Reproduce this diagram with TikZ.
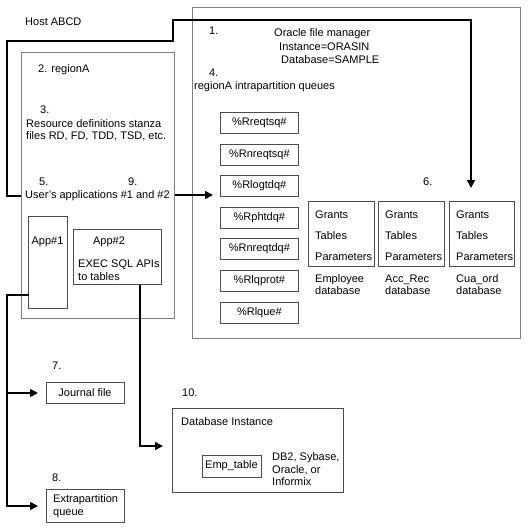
\documentclass[tikz,border=0pt]{standalone}
\usepackage{fontspec}
\setmainfont{Liberation Sans}
\usetikzlibrary{arrows.meta}
\newcommand\dfont{\fontsize{11}{12.5}\selectfont}
\begin{document}
\begin{tikzpicture}[x=1pt,y=-1pt,
  bigbox/.style={draw=black!50, line width=0.9pt, inner sep=0pt, anchor=north west},
  smallbox/.style={draw=black!70, line width=0.8pt, inner sep=0pt, anchor=north west, font=\dfont},
  lbl/.style={inner sep=0pt, anchor=west, font=\dfont, align=left},
  clbl/.style={inner sep=0pt, font=\dfont, align=center},
  conn/.style={line width=1.6pt, line join=miter, line cap=rect},
  arr/.style={line width=1.6pt, line join=miter, -{Triangle[length=8pt,width=8pt]}}]
\useasboundingbox (0,0) rectangle (528,531);
\fill[white] (0,0) rectangle (528,531);

% big boxes
\node[bigbox, minimum width=328pt, minimum height=331pt] (fm) at (192,7) {};
\node[bigbox, minimum width=153pt, minimum height=266pt] (lb) at (21,52) {};

% header texts
\node[lbl] (host) at (25,22) {Host ABCD};
\node[lbl] (n1) at (209,31) {1.};
\node[lbl] (ofm) at (274,34) {Oracle file manager};
\node[lbl] (inst) at (279,47) {Instance=ORASIN};
\node[lbl] (dbs) at (281,60) {Database=SAMPLE};
\node[lbl] (n4) at (209,73) {4.};
\node[lbl] (iq) at (194,87) {regionA intrapartition queues};
\node[lbl] (n6) at (423,182) {6.};

% left box texts
\node[lbl] (reg) at (38,70) {2. regionA};
\node[lbl] (n3) at (40,110) {3.};
\node[lbl] (res) at (26,130) {Resource definitions stanza\\files RD, FD, TDD, TSD, etc.};
\node[lbl] (n5) at (39,182) {5.};
\node[lbl] (n9) at (128,182) {9.};
\node[lbl] (ua) at (25,196) {User's applications \#1 and \#2};

% apps
\node[smallbox, minimum width=39pt, minimum height=92pt] (a1) at (28,216) {};
\node[clbl] (a1t) at (47.5,242) {App\#1};
\node[smallbox, minimum width=88pt, minimum height=55pt] (a2) at (73,229) {};
\node[clbl] (a2t) at (109,242) {App\#2};
\node[lbl] (a2x) at (78,270) {EXEC SQL APIs\\to tables};

% queues
\foreach \t/\y/\nm in {\%Rreqtsq\#/112/q1, \%Rnreqtsq\#/144/q2, \%Rlogtdq\#/175/q3, \%Rphtdq\#/207/q4, \%Rnreqtdq\#/238/q5, \%Rlqprot\#/270/q6, \%Rlque\#/302/q7}
  \node[smallbox, minimum width=78pt, minimum height=21pt, anchor=north west] (\nm) at (220,\y) {\t};

% grants boxes
\foreach \x/\w/\nm/\db in {308/66/g1/Employee, 378/66/g2/Acc\_Rec, 449/65/g3/Cua\_ord}{
  \node[smallbox, minimum width=\w pt, minimum height=65pt] (\nm) at (\x,201) {};
  \node[lbl] (\nm a) at (\x+7,215) {Grants};
  \node[lbl] (\nm b) at (\x+7,236) {Tables};
  \node[lbl] (\nm c) at (\x+7,256.5) {Parameters};
  \node[lbl, font={\fontsize{11}{12}\selectfont}] (\nm d) at (\x+7,285) {\db\\database};
}

% lower boxes
\node[lbl] (n7) at (52,366) {7.};
\node[smallbox, minimum width=78pt, minimum height=21pt] (jf) at (46,382) {};
\node[clbl] (jft) at (85,392.5) {Journal file};
\node[lbl] (n8) at (52,478) {8.};
\node[smallbox, minimum width=78pt, minimum height=33pt] (ep) at (46,489) {};
\node[lbl] (ept) at (53,506) {Extrapartition\\queue};

\node[lbl] (n10) at (182,393) {10.};
\node[smallbox, minimum width=171pt, minimum height=84pt] (db) at (172,408) {};
\node[lbl] (dbt) at (181,422) {Database Instance};
\node[smallbox, minimum width=59pt, minimum height=22pt] (emp) at (202,455) {};
\node[clbl] (empt) at (231.5,466) {Emp\_table};
\node[lbl] (dbl) at (272,469.5) {DB2, Sybase,\\Oracle, or\\Informix};

% connectors
\coordinate (t1) at (7,41);
\coordinate (t2) at (173,41);
\coordinate (t3) at (173,20);
\coordinate (t4) at (471,20);
\coordinate (t5) at (471,188);
\draw[arr] (lb.west |- ua) -| (t1) -- (t2) -- (t3) -- (t4) -- (t5);
\coordinate (u1) at (213,195);
\draw[arr] (lb.east |- u1) -- (u1);

\coordinate (j0) at (7,295);
\coordinate (j1) at (38,393);
\coordinate (j2) at (38,506);
\draw[conn] (a1.west |- j0) -- (j0);
\draw[arr] (j0) |- (j1);
\draw[arr] (j0) |- (j2);

\coordinate (k0) at (140,446);
\coordinate (k1) at (163,446);
\draw[arr] (a2.south -| k0) |- (k1);
\end{tikzpicture}
\end{document}
